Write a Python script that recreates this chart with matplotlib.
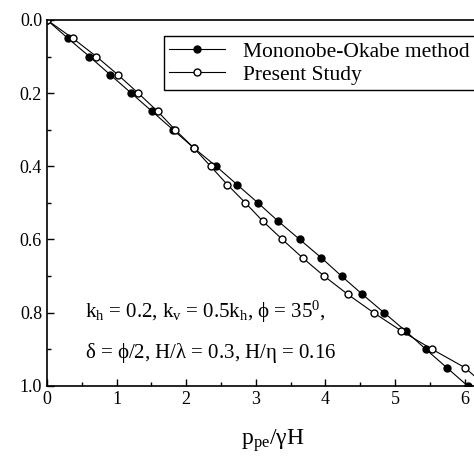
import matplotlib
matplotlib.use("Agg")
import matplotlib.pyplot as plt
from matplotlib.ticker import MultipleLocator

plt.rcParams["font.family"] = ["Liberation Serif", "DejaVu Serif"]
plt.rcParams["mathtext.fontset"] = "custom"
plt.rcParams["mathtext.rm"] = "Liberation Serif"
plt.rcParams["mathtext.it"] = "Liberation Serif"

depth = [0.05 * i for i in range(21)]
mo_pressure = [0.0, 0.30, 0.61, 0.91, 1.21, 1.51, 1.81, 2.11, 2.43, 2.73, 3.03,
               3.32, 3.63, 3.94, 4.23, 4.53, 4.84, 5.15, 5.44, 5.74, 6.04]
present_pressure = [0.0, 0.37, 0.71, 1.02, 1.31, 1.59, 1.84, 2.11, 2.35, 2.59, 2.85,
                    3.10, 3.38, 3.67, 3.98, 4.32, 4.69, 5.09, 5.53, 6.00, 6.30]

fig = plt.figure(figsize=(4.74, 4.74), dpi=100)
ax = fig.add_axes([0.099, 0.186, 0.955, 0.772])
ax.plot(mo_pressure, depth, color="black", lw=0.8, marker="o", ms=5,
        mfc="black", mec="black", label="Mononobe-Okabe method")
ax.plot(present_pressure, depth, color="black", lw=0.8, marker="o", ms=5,
        mfc="white", mec="black", label="Present Study")
ax.set_xlim(0, 6.5)
ax.set_ylim(1.0, 0.0)
ax.xaxis.set_major_locator(MultipleLocator(1))
ax.xaxis.set_minor_locator(MultipleLocator(0.5))
ax.yaxis.set_major_locator(MultipleLocator(0.2))
ax.yaxis.set_minor_locator(MultipleLocator(0.1))
ax.yaxis.set_major_formatter(plt.FormatStrFormatter("%.1f"))
ax.tick_params(which="both", direction="in", labelsize=13, width=1)
ax.tick_params(which="major", length=5)
ax.tick_params(which="minor", length=3)
for s in ax.spines.values():
    s.set_linewidth(1.2)
ax.set_xlabel(r"p$_{\rm pe}$/$\gamma$H", fontsize=17, labelpad=14)
ax.set_ylabel("z/H", fontsize=17, labelpad=12)
ax.legend(loc="upper left", bbox_to_anchor=(0.235, 0.985), fontsize=15.5,
          frameon=True, fancybox=False, edgecolor="black", framealpha=1,
          handlelength=2.6, borderpad=0.25, labelspacing=0.15)
ax.text(0.55, 0.815, r"k$_{\rm h}$ = 0.2, k$_{\rm v}$ = 0.5k$_{\rm h}$, $\phi$ = 35$^{0}$,",
        fontsize=15)
ax.text(0.55, 0.925, r"$\delta$ = $\phi$/2, H/$\lambda$ = 0.3, H/$\eta$ = 0.16", fontsize=15)
fig.savefig("out.png", dpi=100)
